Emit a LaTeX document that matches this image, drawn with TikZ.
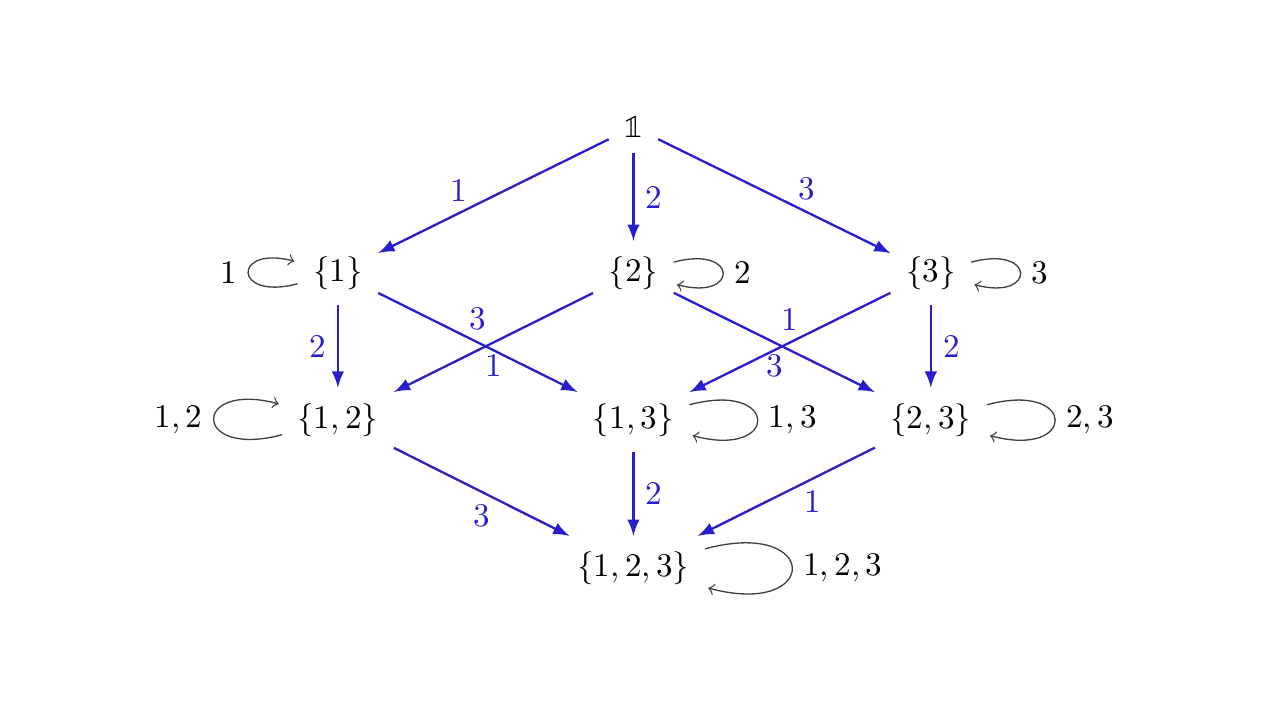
\documentclass[tikz,border=0pt]{standalone}
\usepackage{amsmath}
\usepackage{unicode-math}
\setmathfont{Latin Modern Math}
\definecolor{edgeblue}{RGB}{40,30,205}

\begin{document}
\begin{tikzpicture}[
			set/.style={inner sep=4.5pt},
			arr/.style={->, >=latex, line width=0.7pt, color=edgeblue},
			every loop/.style={->, shorten >=1pt, draw=black!75}]
		\useasboundingbox (0,0) rectangle (13.6,7.65);

		% lattice of subsets
		\node[set] (one) at (6.73,6.30) {$\symbb{1}$};
		\node[set] (s1) at (3.59,4.75) {$\{1\}$};
		\node[set] (s2) at (6.73,4.75) {$\{2\}$};
		\node[set] (s3) at (9.89,4.75) {$\{3\}$};
		\node[set] (s12) at (3.59,3.19) {$\{1,2\}$};
		\node[set] (s13) at (6.73,3.19) {$\{1,3\}$};
		\node[set] (s23) at (9.89,3.19) {$\{2,3\}$};
		\node[set] (s123) at (6.73,1.615) {$\{1,2,3\}$};

		\draw[arr] (one) -- (s1) node[pos=0.65,above] {$1$};
		\draw[arr] (one) -- (s2) node[midway,right] {$2$};
		\draw[arr] (one) -- (s3) node[pos=0.64,above] {$3$};

		\draw[arr] (s1) -- (s12) node[midway,left] {$2$};
		\draw[arr] (s1) -- (s13) node[midway,above] {$3$};
		\draw[arr] (s2) -- (s12) node[midway,below] {$1$};
		\draw[arr] (s2) -- (s23) node[midway,below] {$3$};
		\draw[arr] (s3) -- (s13) node[midway,above] {$1$};
		\draw[arr] (s3) -- (s23) node[midway,right] {$2$};

		\draw[arr] (s12) -- (s123) node[midway,below] {$3$};
		\draw[arr] (s13) -- (s123) node[midway,right] {$2$};
		\draw[arr] (s23) -- (s123) node[pos=0.35,below] {$1$};

		% self loops
		\path (s1) edge[loop left] node {$1$} (s1);
		\path (s2) edge[loop right] node {$2$} (s2);
		\path (s3) edge[loop right] node {$3$} (s3);
		\path (s12) edge[loop left] node {$1,2$} (s12);
		\path (s13) edge[loop right] node {$1,3$} (s13);
		\path (s23) edge[loop right] node {$2,3$} (s23);
		\path (s123) edge[loop right] node {$1,2,3$} (s123);

\end{tikzpicture}
\end{document}
